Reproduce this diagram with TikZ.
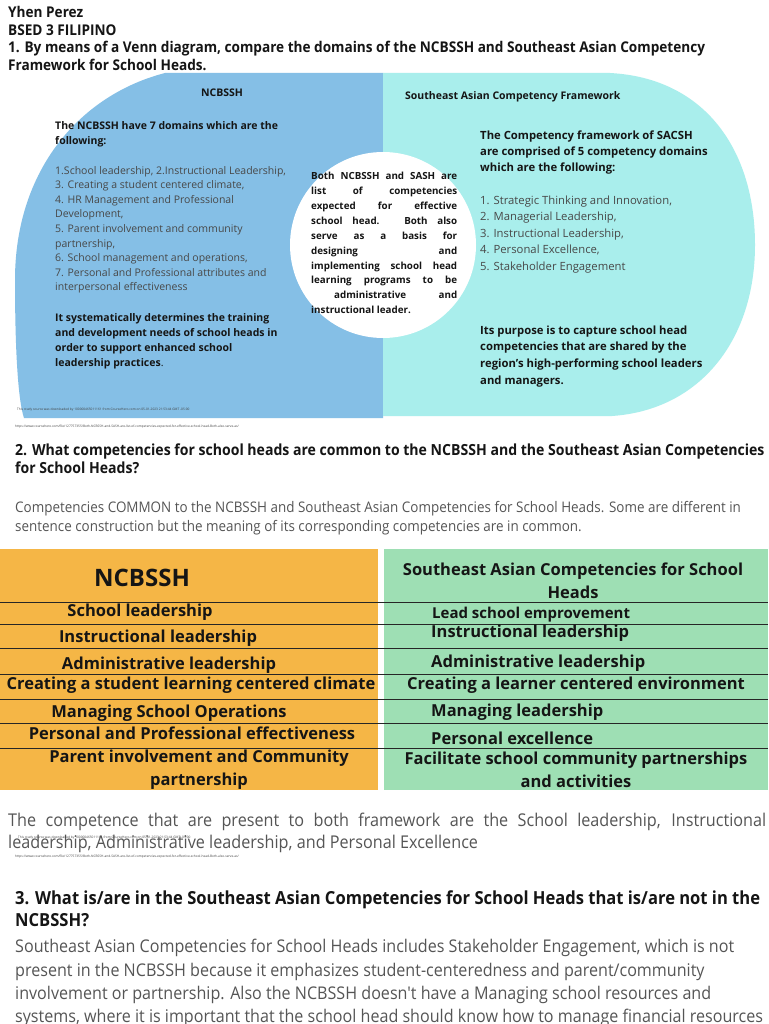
\documentclass[tikz,border=0pt]{standalone}
\usepackage{fontspec}
\usepackage{tikz}
\setmainfont{Open Sans}
\newfontfamily\condfont[FakeStretch=0.92]{Open Sans}
\usetikzlibrary{positioning}

\definecolor{vennblue}{HTML}{85BFE6}
\definecolor{venncyan}{HTML}{A9EEEC}
\definecolor{tblorange}{HTML}{F5B646}
\definecolor{tblgreen}{HTML}{9EDFB4}
\definecolor{bodygray}{HTML}{555555}
\definecolor{listgray}{HTML}{484848}
\definecolor{inkblack}{HTML}{151515}

\tikzset{
  txt/.style={inner sep=0pt,anchor=west,text=inkblack},
  para/.style={inner sep=0pt,anchor=north west,align=left,text=inkblack},
  cell/.style={inner sep=0pt,anchor=center,align=center,text=inkblack,font=\bfseries\fontsize{16.5}{23}\selectfont},
  tiny/.style={inner sep=0pt,anchor=west,text=black!75,font=\fontsize{3.2}{4}\selectfont}
}

\begin{document}
\begin{tikzpicture}[x=1pt,y=-1pt]
  \useasboundingbox (0,0) rectangle (768,1024);
  \fill[white] (0,0) rectangle (768,1024);

  % header
  \node[para,font=\condfont\bfseries\fontsize{14.8}{17.7}\selectfont] (header) at (8,6)
    {Yhen Perez\\BSED 3 FILIPINO\\1. By means of a Venn diagram, compare the domains of the NCBSSH and Southeast Asian Competency\\Framework for School Heads.};

  % venn
  \fill[vennblue] (383,73) -- (165,73) .. controls (80,95) and (15,170) .. (15,280)
    .. controls (15,350) and (18,400) .. (24,418) -- (383,418) -- cycle;
  \fill[venncyan] (383,73) -- (610,73) .. controls (705,78) and (755,150) .. (755,245)
    .. controls (755,340) and (700,410) .. (612,416) -- (383,416) -- cycle;
  \fill[white] (383,245) circle (93);

  \node[txt,anchor=center,font=\bfseries\fontsize{10.5}{14}\selectfont] (ncbtitle) at (222,93) {NCBSSH};
  \node[para,font=\bfseries\fontsize{10.5}{15}\selectfont] (ncbintro) at (55,121)
    {The NCBSSH have 7 domains which are the\\following:};
  \node[para,text=listgray,font=\fontsize{10.5}{14.6}\selectfont] (ncblist) at (55,166)
    {1.School leadership, 2.Instructional Leadership,\\3. Creating a student centered climate,\\4. HR Management and Professional\\Development,\\5. Parent involvement and community\\partnership,\\6. School management and operations,\\7. Personal and Professional attributes and\\interpersonal effectiveness};
  \node[para,font=\bfseries\fontsize{10.5}{15}\selectfont] (ncbpurpose) at (55,313)
    {It systematically determines the training\\and development needs of school heads in\\order to support enhanced school\\leadership practices{\mdseries .}};

  \node[para,text width=146pt,align=justify,font=\bfseries\fontsize{9.8}{14.9}\selectfont] (common) at (311,172)
    {Both NCBSSH and SASH are\linebreak list of competencies\linebreak expected for effective\linebreak school head. Both also\linebreak serve as a basis for\linebreak designing and\linebreak implementing school head\linebreak learning programs to be\linebreak \hspace*{23pt}administrative and\linebreak instructional leader.};

  \node[txt,font=\bfseries\fontsize{10.5}{14}\selectfont] (seatitle) at (405,97) {Southeast Asian Competency Framework};
  \node[para,font=\bfseries\fontsize{11.3}{16}\selectfont] (seaintro) at (480,130.5)
    {The Competency framework of SACSH\\are comprised of 5 competency domains\\which are the following:};
  \node[para,text=listgray,font=\fontsize{11.3}{16.5}\selectfont] (sealist) at (480,195.5)
    {1. Strategic Thinking and Innovation,\\2. Managerial Leadership,\\3. Instructional Leadership,\\4. Personal Excellence,\\5. Stakeholder Engagement};
  \node[para,font=\bfseries\fontsize{11.3}{16.7}\selectfont] (seapurpose) at (480,325.5)
    {Its purpose is to capture school head\\competencies that are shared by the\\region's high-performing school leaders\\and managers.};

  \node[tiny] (src1) at (17,410) {This study source was downloaded by 100000465011161 from CourseHero.com on 05-01-2023 21:53:44 GMT -05:00};
  \node[tiny] (url1) at (15,427) {https://www.coursehero.com/file/127757355/Both-NCBSSH-and-SASH-are-list-of-competencies-expected-for-effective-school-head-Both-also-serve-as/};

  % question 2
  \node[para,font=\condfont\bfseries\fontsize{15.3}{18.5}\selectfont] (q2) at (15,443.5)
    {2. What competencies for school heads are common to the NCBSSH and the Southeast Asian Competencies\\for School Heads?};
  \node[para,text=bodygray,font=\condfont\fontsize{14.6}{19}\selectfont] (q2text) at (15,501)
    {Competencies COMMON to the NCBSSH and Southeast Asian Competencies for School Heads. Some are different in\\sentence construction but the meaning of its corresponding competencies are in common.};

  % table
  \fill[tblorange] (0,549) rectangle (378,790);
  \fill[tblgreen] (384,549) rectangle (768,790);
  \foreach \y in {602,624,648,674,699,723,748}
    \draw[line width=0.9pt,black!85] (0,\y) -- (768,\y);

  \node[cell,font=\bfseries\fontsize{24}{28}\selectfont] (ncbhead) at (142,578) {NCBSSH};
  \node[cell] (seahead) at (573,580.5) {Southeast Asian Competencies for School\\Heads};
  \foreach \x/\y/\name/\label in {
      140/612/ncbA/School leadership,
      158/638/ncbB/Instructional leadership,
      169/665/ncbC/Administrative leadership,
      191/685/ncbD/Creating a student learning centered climate,
      169/713/ncbE/Managing School Operations,
      192/733/ncbF/Personal and Professional effectiveness}
    \node[cell] (\name) at (\x,\y) {\label};
  \node[cell] (ncbG) at (199,769.5) {Parent involvement and Community\\partnership};

  \node[txt,font=\bfseries\fontsize{15}{20}\selectfont] (seaA) at (432,615) {Lead school emprovement};
  \foreach \y/\name/\label in {
      633/seaB/Instructional leadership,
      663/seaC/Administrative leadership,
      712/seaE/Managing leadership,
      738/seaF/Personal excellence}
    \node[txt,font=\bfseries\fontsize{16.5}{20}\selectfont] (\name) at (431,\y) {\label};
  \node[cell] (seaD) at (576,685) {Creating a learner centered environment};
  \node[cell] (seaG) at (576,769.5) {Facilitate school community partnerships\\and activities};

  % conclusion
  \node[para,text width=758pt,align=justify,text=bodygray,font=\condfont\fontsize{17.6}{22.5}\selectfont] (common2) at (8,812.5)
    {The competence that are present to both framework are the School leadership, Instructional\linebreak leadership, Administrative leadership, and Personal Excellence};
  \node[tiny] (src2) at (18,838) {This study source was downloaded by 100000465011161 from CourseHero.com on 05-01-2023 21:53:44 GMT -05:00};
  \node[tiny] (url2) at (15,857) {https://www.coursehero.com/file/127757355/Both-NCBSSH-and-SASH-are-list-of-competencies-expected-for-effective-school-head-Both-also-serve-as/};

  % question 3
  \node[para,font=\condfont\bfseries\fontsize{18}{22}\selectfont] (q3) at (15,890.5)
    {3. What is/are in the Southeast Asian Competencies for School Heads that is/are not in the\\NCBSSH?};
  \node[para,text=bodygray,font=\condfont\fontsize{17.5}{23.4}\selectfont] (q3text) at (15,939)
    {Southeast Asian Competencies for School Heads includes Stakeholder Engagement, which is not\\present in the NCBSSH because it emphasizes student-centeredness and parent/community\\involvement or partnership. Also the NCBSSH doesn't have a Managing school resources and\\systems, where it is important that the school head should know how to manage financial resources};
\end{tikzpicture}
\end{document}
